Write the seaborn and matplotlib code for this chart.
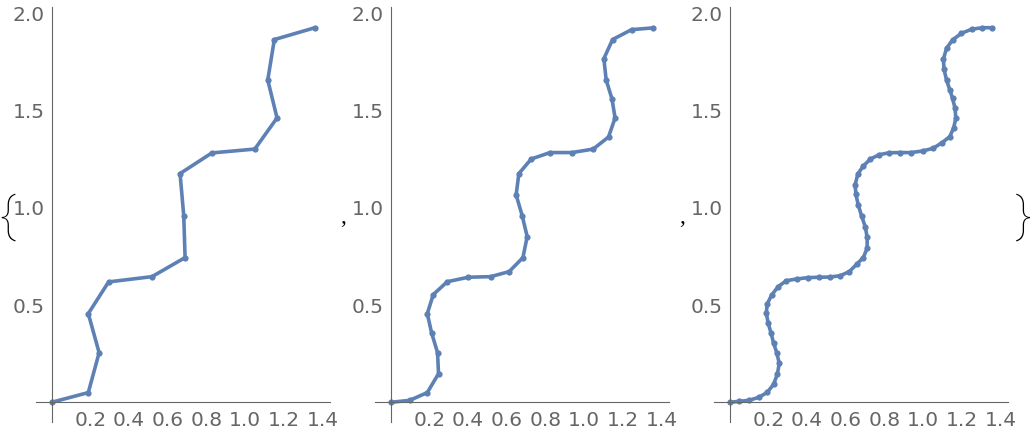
import numpy as np
import pandas as pd
import matplotlib
matplotlib.use("Agg")
import matplotlib.pyplot as plt
import seaborn as sns

# ---- data ----
p1_x = [0.000, 0.189, 0.245, 0.189, 0.294, 0.518, 0.689, 0.682, 0.663, 0.827, 1.049, 1.164, 1.116, 1.150, 1.360]
p1_y = [0.000, 0.050, 0.255, 0.456, 0.619, 0.646, 0.744, 0.960, 1.176, 1.282, 1.302, 1.462, 1.657, 1.865, 1.926]

p2_x = [0.000, 0.098, 0.189, 0.247, 0.242, 0.211, 0.189, 0.220, 0.292, 0.401, 0.516, 0.612, 0.683, 0.705, 0.679,
        0.648, 0.662, 0.726, 0.823, 0.937, 1.046, 1.125, 1.159, 1.143, 1.113, 1.101, 1.146, 1.244, 1.355]
p2_y = [0.000, 0.010, 0.050, 0.147, 0.255, 0.358, 0.456, 0.554, 0.620, 0.643, 0.646, 0.672, 0.744, 0.852, 0.960,
        1.066, 1.176, 1.251, 1.284, 1.284, 1.302, 1.364, 1.462, 1.560, 1.657, 1.767, 1.865, 1.916, 1.925]

p3_x = [0.000, 0.048, 0.100, 0.151, 0.194, 0.227, 0.246, 0.256, 0.243, 0.227, 0.213, 0.199, 0.189, 0.194, 0.217,
        0.251, 0.292, 0.346, 0.404, 0.461, 0.518, 0.571, 0.618, 0.655, 0.690, 0.710, 0.710, 0.700, 0.681, 0.664,
        0.652, 0.648, 0.662, 0.690, 0.727, 0.772, 0.824, 0.879, 0.936, 0.996, 1.051, 1.097, 1.137, 1.157, 1.168,
        1.164, 1.151, 1.137, 1.120, 1.107, 1.104, 1.120, 1.151, 1.197, 1.249, 1.305, 1.357]
p3_y = [0.000, 0.005, 0.010, 0.026, 0.051, 0.093, 0.144, 0.200, 0.255, 0.303, 0.358, 0.406, 0.458, 0.506, 0.552,
        0.595, 0.625, 0.634, 0.641, 0.643, 0.644, 0.651, 0.672, 0.709, 0.744, 0.792, 0.848, 0.903, 0.959, 1.014,
        1.069, 1.119, 1.174, 1.215, 1.251, 1.273, 1.283, 1.284, 1.284, 1.292, 1.306, 1.335, 1.366, 1.412, 1.460,
        1.511, 1.563, 1.606, 1.657, 1.712, 1.765, 1.820, 1.863, 1.897, 1.918, 1.926, 1.926]

x_ticks = [0.2, 0.4, 0.6, 0.8, 1.0, 1.2, 1.4]
x_tick_labels = ["0.2", "0.4", "0.6", "0.8", "1.0", "1.2", "1.4"]
y_ticks = [0.5, 1.0, 1.5, 2.0]
y_tick_labels = ["0.5", "1.0", "1.5", "2.0"]

# ---- style ----
sns.set_style("white")
plt.rcParams["font.family"] = ["DejaVu Sans"]

LINE = "#5E81B5"
AX = "#666666"

W, H = 1032, 434
fig = plt.figure(figsize=(W / 100, H / 100), dpi=100)

xmin, xmax = -0.08, 1.44
ymin, ymax = -0.10, 2.03
sx, sy = 193.6, 194.5          # px per data unit
y0_px = 402.3                    # pixel row of y = 0 (from top)
origins = [51.7, 390.7, 729.7]   # pixel column of x = 0 for each panel

datasets = [(p1_x, p1_y), (p2_x, p2_y), (p3_x, p3_y)]

for ox, (xs, ys) in zip(origins, datasets):
    left = ox + xmin * sx
    width = (xmax - xmin) * sx
    top = y0_px - ymax * sy
    height = (ymax - ymin) * sy
    ax = fig.add_axes([left / W, 1 - (top + height) / H, width / W, height / H])
    df = pd.DataFrame({"x": xs, "y": ys})
    sns.lineplot(data=df, x="x", y="y", sort=False, estimator=None, ax=ax,
                 color=LINE, linewidth=2.6, marker="o", markersize=4.5,
                 markeredgewidth=0, legend=False)
    ax.set_xlim(xmin, xmax)
    ax.set_ylim(ymin, ymax)
    ax.set_xlabel("")
    ax.set_ylabel("")
    for s in ["top", "right"]:
        ax.spines[s].set_visible(False)
    ax.spines["left"].set_position(("data", 0))
    ax.spines["bottom"].set_position(("data", 0))
    for s in ["left", "bottom"]:
        ax.spines[s].set_color(AX)
        ax.spines[s].set_linewidth(0.8)
    ax.spines["left"].set_bounds(ymin, ymax)
    ax.spines["bottom"].set_bounds(xmin, xmax)
    ax.set_xticks(x_ticks)
    ax.set_xticklabels(x_tick_labels)
    ax.set_yticks(y_ticks)
    ax.set_yticklabels(y_tick_labels)
    ax.set_xticks([round(-0.05 + 0.05 * i, 2) for i in range(30)], minor=True)
    ax.set_yticks([round(0.1 * i, 1) for i in range(1, 21)], minor=True)
    ax.tick_params(axis="both", which="major", direction="in", length=4.5, width=0.8,
                   color=AX, labelcolor=AX, labelsize=14.5)
    ax.tick_params(axis="both", which="minor", direction="in", length=2.5, width=0.7, color=AX)
    ax.tick_params(axis="x", which="major", pad=6)
    ax.tick_params(axis="y", which="major", pad=5)
    ax.patch.set_alpha(0)
    ax.grid(False)

# list braces and separators
brace_font = ["Roboto", "DejaVu Sans"]
serif = ["Liberation Serif", "DejaVu Serif"]
fig.text(-1 / W, 1 - 217 / H, "{", family=brace_font, fontweight="light", fontsize=35,
         ha="left", va="center", color="black")
fig.text(1032 / W, 1 - 217 / H, "}", family=brace_font, fontweight="light", fontsize=35,
         ha="right", va="center", color="black")
fig.text(340 / W, 1 - 223 / H, ",", family=serif, fontsize=17, ha="left", va="baseline", color="black")
fig.text(679 / W, 1 - 223 / H, ",", family=serif, fontsize=17, ha="left", va="baseline", color="black")

fig.savefig("out.png", dpi=100)
